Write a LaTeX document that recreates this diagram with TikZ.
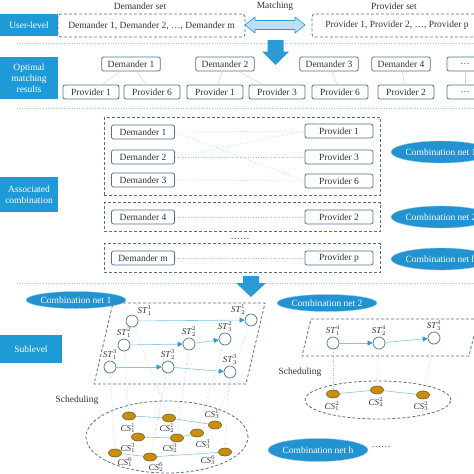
\documentclass[tikz,border=0pt]{standalone}
\usepackage{fontspec}
\setmainfont{Liberation Serif}
\usetikzlibrary{shapes,arrows.meta,positioning,fit}

\definecolor{lvlblue}{HTML}{1E9AD6}
\definecolor{netblue}{HTML}{2292D0}
\definecolor{boxline}{HTML}{4F7390}
\definecolor{grpline}{HTML}{5C6F82}
\definecolor{dotblue}{HTML}{9CC6DA}
\definecolor{linkblue}{HTML}{86C3DE}
\definecolor{tipblue}{HTML}{2A9BD5}
\definecolor{csfill}{HTML}{C98F0C}
\definecolor{csline}{HTML}{6B5A2C}
\definecolor{txtgray}{HTML}{333333}

\begin{document}
\begin{tikzpicture}[x=1pt, y=-1pt,
    font=\fontsize{9.5}{11}\selectfont, text=txtgray,
    level/.style={rectangle, fill=lvlblue, text=white, align=center, inner sep=0pt},
    setbox/.style={rectangle, rounded corners=3pt, draw=grpline, line width=0.8pt, dash pattern=on 3pt off 2pt, minimum height=23pt, inner sep=0pt},
    item/.style={rectangle, rounded corners=2pt, draw=boxline, line width=0.8pt, fill=white, minimum width=56pt, minimum height=14pt, inner xsep=6pt, inner ysep=0pt},
    group/.style={draw=grpline, line width=0.8pt, dash pattern=on 3pt off 2pt, inner sep=7pt},
    net/.style={ellipse, fill=netblue, draw=netblue!50!white, text=white, inner sep=0pt},
    bigarrow/.style={fill=tipblue},
    matcharrow/.style={draw=tipblue, fill=lvlblue!30, line width=0.7pt, line join=round},
    st/.style={circle, draw=boxline, fill=white, line width=0.7pt, minimum size=12pt, inner sep=0pt},
    stlab/.style={font=\fontsize{9}{10}\selectfont, inner sep=1pt},
    cs/.style={ellipse, draw=csline, fill=csfill, line width=0.6pt, minimum width=13pt, minimum height=8pt, inner sep=0pt},
    flow/.style={draw=linkblue, semithick, -{Triangle[length=5pt, width=5pt, color=tipblue]}},
    maplink/.style={draw=dotblue, dotted, semithick},
    cslink/.style={draw=linkblue, semithick},
    pairline/.style={draw=gray!40, thin},
    sepline/.style={draw=dotblue, dotted, semithick}]

    \useasboundingbox (0,0) rectangle (474,474);

    % Level tags
    \node[level, minimum width=58pt, minimum height=22pt] (ulevel) at (29,25) {User-level};
    \node[level, minimum width=58pt, minimum height=42pt] (omatch) at (29,78) {Optimal\\matching\\results};
    \node[level, minimum width=58pt, minimum height=35pt] (acomb) at (29,194.5) {Associated\\combination};
    \node[level, minimum width=62pt, minimum height=28pt] (slevel) at (31,349) {Sublevel};

    % Section dividers
    \foreach \y in {43, 108, 283} {
        \draw[sepline] (17,\y) -- (474,\y);
    }

    % User level sets
    \node[setbox, minimum width=187pt] (dset) at (151.5,25.5) {Demander 1, Demander 2, \dots, Demander m};
    \node[setbox, minimum width=170pt] (pset) at (397,25.5) {Provider 1, Provider 2, \dots, Provider p};
    \node (dsetlab) at (140,6) {Demander set};
    \node (psetlab) at (394,6) {Provider set};
    \node (matchlab) at (275,6) {Matching};
    \draw[matcharrow] (245,25) -- (255,17) -- (255,20.5) -- (295,20.5) -- (295,17) -- (305,25)
        -- (295,33) -- (295,29.5) -- (255,29.5) -- (255,33) -- cycle;
    \fill[bigarrow] (267.5,40) -- (283.5,40) -- (283.5,51.5) -- (289,51.5) -- (275.5,65)
        -- (262,51.5) -- (267.5,51.5) -- cycle;

    % Optimal matching pairs
    \node[item] (md1) at (131,64) {Demander 1};
    \node[item] (md2) at (225,64) {Demander 2};
    \node[item] (md3) at (329,64) {Demander 3};
    \node[item] (md4) at (401,64) {Demander 4};
    \node[item, minimum width=36pt] (md5) at (465,64) {\dots};
    \node[item] (mp1) at (91,92) {Provider 1};
    \node[item] (mp6) at (152,92) {Provider 6};
    \node[item] (mp1b) at (215,92) {Provider 1};
    \node[item] (mp3) at (277,92) {Provider 3};
    \node[item] (mp6b) at (340,92) {Provider 6};
    \node[item] (mp2) at (406,92) {Provider 2};
    \node[item, minimum width=36pt] (mp5) at (465,92) {\dots};
    \foreach \a/\b in {md1/mp1, md1/mp6, md2/mp1b, md2/mp3, md3/mp6b, md4/mp2, md5/mp5} {
        \draw[pairline] (\a) -- (\b);
    }

    % Associated combinations
    \node[item, minimum width=63pt] (ad1) at (143,132) {Demander 1};
    \node[item, minimum width=63pt] (ad2) at (143,157) {Demander 2};
    \node[item, minimum width=63pt] (ad3) at (143,180) {Demander 3};
    \node[item, minimum width=63pt] (ad4) at (143,217) {Demander 4};
    \node[item, minimum width=63pt] (adm) at (143,258) {Demander m};
    \node[item, minimum width=68pt] (ap1) at (339,131) {Provider 1};
    \node[item, minimum width=68pt] (ap3) at (339,157) {Provider 3};
    \node[item, minimum width=68pt] (ap6) at (339,181) {Provider 6};
    \node[item, minimum width=68pt] (ap2) at (339,217) {Provider 2};
    \node[item, minimum width=68pt] (app) at (339,258) {Provider p};
    \node[group, fit=(ad1)(ap6)] (grp1) {};
    \node[group, fit=(ad4)(ap2)] (grp2) {};
    \node[group, fit=(adm)(app)] (grp3) {};
    \node (adots) at (240,239) {\dots\dots};
    \foreach \a/\b in {ad1/ap1, ad1/ap6, ad2/ap1, ad2/ap3, ad3/ap6, ad4/ap2, adm/app} {
        \draw[maplink] (\a.east) -- (\b.west);
    }
    \node[net, minimum width=100pt, minimum height=22pt] (cn1) at (441,152) {Combination net 1};
    \node[net, minimum width=100pt, minimum height=22pt] (cn2) at (441,217) {Combination net 2};
    \node[net, minimum width=100pt, minimum height=22pt] (cnh) at (441,259) {Combination net h};

    \fill[bigarrow] (243,276) -- (259,276) -- (259,283) -- (266,283) -- (251,297)
        -- (236,283) -- (243,283) -- cycle;

    % Sublevel: combination net 1
    \node[net, minimum width=88pt, minimum height=17pt] (sn1) at (76,300) {Combination net 1};
    \draw[group] (113,303) -- (265,303) -- (246,384) -- (94,384) -- cycle;
    \node[st, label={[stlab]above right:\textit{ST}$_1^1$}] (st11) at (132,321) {};
    \node[st, label={[stlab]above left:\textit{ST}$_2^1$}] (st21) at (251,320) {};
    \node[st, label={[stlab]above:\textit{ST}$_1^2$}] (st12) at (124,345) {};
    \node[st, label={[stlab]above:\textit{ST}$_2^2$}] (st22) at (189,344) {};
    \node[st, label={[stlab]above:\textit{ST}$_3^2$}] (st32) at (225,339) {};
    \node[st, label={[stlab]above:\textit{ST}$_1^3$}] (st13) at (110,367) {};
    \node[st, label={[stlab]above:\textit{ST}$_2^3$}] (st23) at (168,367) {};
    \node[st, label={[stlab]above:\textit{ST}$_3^3$}] (st33) at (230,372) {};
    \draw[flow] (st11) -- (st21);
    \draw[flow] (st12) -- (st22);
    \draw[flow] (st22) -- (st32);
    \draw[flow] (st13) -- (st23);
    \draw[flow] (st23) -- (st33);

    \node (sched1) at (77,400) {Scheduling};
    \draw[group] (167,437) ellipse [x radius=81pt, y radius=36pt];
    \node[cs] (cs11) at (129,416) {};
    \node[cs] (cs21) at (169,418) {};
    \node[cs] (cs31) at (215,425) {};
    \node[cs] (cs13) at (138,437) {};
    \node[cs] (cs23) at (177,438) {};
    \node[cs] (cs33) at (197,433) {};
    \node[cs] (cs16) at (115,453) {};
    \node[cs] (cs26) at (150,457) {};
    \node[cs] (cs36) at (225,452) {};
    \node[stlab] (cs11lab) at (128,428) {\textit{CS}$_1^1$};
    \node[stlab] (cs21lab) at (167,428) {\textit{CS}$_2^1$};
    \node[stlab] (cs31lab) at (212,414) {\textit{CS}$_3^1$};
    \node[stlab] (cs13lab) at (128,448) {\textit{CS}$_1^3$};
    \node[stlab] (cs23lab) at (170,448) {\textit{CS}$_2^3$};
    \node[stlab] (cs33lab) at (203,444) {\textit{CS}$_3^3$};
    \node[stlab] (cs16lab) at (125,462) {\textit{CS}$_1^6$};
    \node[stlab] (cs26lab) at (156,467) {\textit{CS}$_2^6$};
    \node[stlab] (cs36lab) at (208,460) {\textit{CS}$_3^6$};
    \foreach \a/\b in {cs11/cs21, cs21/cs31, cs13/cs23, cs23/cs33, cs16/cs26, cs26/cs36} {
        \draw[cslink] (\a) -- (\b);
    }
    \foreach \a/\b in {st13/cs16, st12/cs11, st11/cs21, st23/cs26, st22/cs23, st32/cs33, st33/cs36, st21/cs31} {
        \draw[maplink] (\a) -- (\b);
    }

    % Sublevel: combination net 2
    \node[net, minimum width=90pt, minimum height=17pt] (sn2) at (327,303) {Combination net 2};
    \draw[group] (311,319) -- (478,319) -- (469,356) -- (302,356) -- cycle;
    \node[st, label={[stlab]above:\textit{ST}$_1^4$}] (st14) at (333,343) {};
    \node[st, label={[stlab]above:\textit{ST}$_2^4$}] (st24) at (379,343) {};
    \node[st, label={[stlab]above:\textit{ST}$_3^4$}] (st34) at (434,338) {};
    \draw[flow] (st14) -- (st24);
    \draw[flow] (st24) -- (st34);

    \node (sched2) at (300,372) {Scheduling};
    \draw[group] (378,400) ellipse [x radius=73pt, y radius=19pt];
    \node[cs] (cs12) at (333,394) {};
    \node[cs] (cs22) at (377,390) {};
    \node[cs] (cs32) at (423,395) {};
    \node[stlab] (cs12lab) at (332,406) {\textit{CS}$_1^2$};
    \node[stlab] (cs22lab) at (376,402) {\textit{CS}$_2^2$};
    \node[stlab] (cs32lab) at (421,406) {\textit{CS}$_3^2$};
    \draw[cslink] (cs12) -- (cs22);
    \draw[cslink] (cs22) -- (cs32);
    \foreach \a/\b in {st14/cs12, st24/cs22, st34/cs32} {
        \draw[maplink] (\a) -- (\b);
    }

    % Remaining nets
    \node[net, minimum width=89pt, minimum height=23pt] (snh) at (318,450) {Combination net h};
    \node (hdots) at (381,447) {\dots\dots};

\end{tikzpicture}
\end{document}
